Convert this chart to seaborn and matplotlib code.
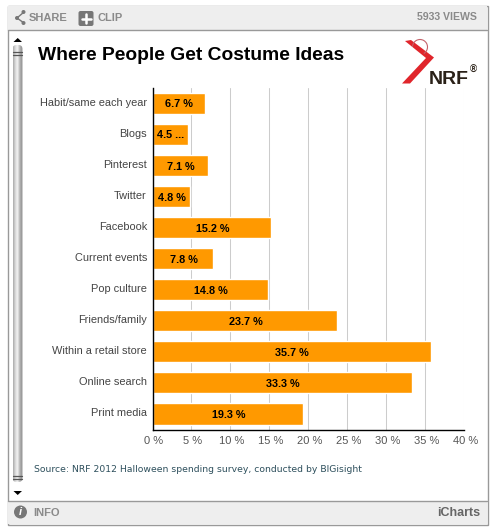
'Where People Get Costume Ideas - NRF bar chart in an iCharts frame'

import numpy as np
import pandas as pd
import matplotlib
matplotlib.use('Agg')
import matplotlib.pyplot as plt
from matplotlib.patches import Rectangle, Polygon, Circle, FancyBboxPatch, Arc
from matplotlib.transforms import ScaledTranslation
import seaborn as sns

categories = ['Habit/same each year', 'Blogs', 'Pinterest', 'Twitter', 'Facebook', 'Current events',
              'Pop culture', 'Friends/family', 'Within a retail store', 'Online search', 'Print media']
values = [6.7, 4.5, 7.1, 4.8, 15.2, 7.8, 14.8, 23.7, 35.7, 33.3, 19.3]
bar_labels = ['6.7 %', '4.5 ...', '7.1 %', '4.8 %', '15.2 %', '7.8 %', '14.8 %', '23.7 %', '35.7 %', '33.3 %', '19.3 %']
x_ticks = [0, 5, 10, 15, 20, 25, 30, 35, 40]

W, H = 492, 530


def main():
    sns.set_theme(style='white')
    plt.rcParams['font.family'] = ['Liberation Sans', 'DejaVu Sans']
    fig = plt.figure(figsize=(W / 100, H / 100), dpi=100, facecolor='white')

    # Frame, toolbars and scrollbar, drawn in pixel coordinates
    bg = fig.add_axes([0, 0, 1, 1], zorder=0)
    bg.set_xlim(0, W)
    bg.set_ylim(H, 0)
    bg.axis('off')
    bg.add_patch(Rectangle((7.5, 5.5), 480, 519, fc='white', ec='#999999', lw=1))
    bg.add_patch(Rectangle((8, 6), 479, 24, fc='#eeeeee', ec='none'))
    bg.add_patch(Rectangle((8, 501), 479, 23, fc='#eeeeee', ec='none'))
    bg.plot([8, 487], [30, 30], color='#999999', lw=1)
    bg.plot([8, 487], [500.5, 500.5], color='#999999', lw=1)

    # share icon
    bg.plot([24, 17, 24], [12, 18, 23], color='#777777', lw=1)
    for cx, cy in [(23.5, 12), (17, 18), (23.5, 23)]:
        bg.add_patch(Circle((cx, cy), 2, fc='#777777', ec='none'))
    bg.text(29, 18, 'SHARE', fontsize=8, fontweight='bold', color='#8a8a8a', va='center')

    # clip icon
    bg.add_patch(FancyBboxPatch((78.5, 11), 15, 15, boxstyle='round,pad=0,rounding_size=2', fc='#777777', ec='none'))
    bg.plot([86, 86], [14, 23], color='white', lw=1.8)
    bg.plot([81.5, 90.5], [18.5, 18.5], color='white', lw=1.8)
    bg.text(98, 18, 'CLIP', fontsize=8, fontweight='bold', color='#8a8a8a', va='center')
    bg.text(477, 17.5, '5933 VIEWS', fontsize=7.6, fontweight='bold', color='#8a8a8a', va='center', ha='right')

    # info + iCharts
    bg.add_patch(Circle((20.5, 512), 6.5, fc='#777777', ec='none'))
    bg.text(20.5, 512, 'i', fontsize=8, fontweight='bold', style='italic', color='white', va='center', ha='center')
    bg.text(33, 512.5, 'INFO', fontsize=8, fontweight='bold', color='#8a8a8a', va='center')
    bg.text(480, 513, 'iCharts', fontsize=9, fontweight='bold', color='#666666', va='center', ha='right')

    # scrollbar
    shade = np.array([[0.70, 0.80, 0.90, 0.93, 0.85, 0.72, 0.62, 0.60]])
    track = FancyBboxPatch((12.5, 45), 10, 437, boxstyle='round,pad=0,rounding_size=4', fc='none', ec='none')
    bg.add_patch(track)
    img = bg.imshow(shade, cmap='gray', vmin=0, vmax=1, extent=(12.5, 22.5, 482, 45), aspect='auto', zorder=1)
    img.set_clip_path(track)
    bg.set_xlim(0, W)
    bg.set_ylim(H, 0)
    for y in [52, 55, 476, 479]:
        bg.plot([13, 22], [y, y], color='#555555', lw=0.9, zorder=2)
    bg.add_patch(Polygon([[13.5, 42], [22, 42], [17.7, 38]], fc='black', ec='none'))
    bg.add_patch(Polygon([[13.5, 491], [22, 491], [17.7, 495]], fc='black', ec='none'))

    bg.text(38, 56, 'Where People Get Costume Ideas', fontsize=13.9, fontweight='bold', color='black', va='center')

    # NRF logo
    bg.add_patch(Polygon([[405, 41], [411, 40], [434, 57.5], [410, 83.5], [402, 83.5], [426, 58]], fc='#e0252b', ec='none'))
    bg.add_patch(Arc((420, 47), 15, 15, theta1=180, theta2=420, ec='#c4626a', lw=0.8))
    bg.text(429, 83.5, 'NRF', fontsize=14, fontweight='bold', color='#2a2118', va='baseline')
    bg.text(470, 70, '®', fontsize=7, fontweight='bold', color='#2a2118', va='center')

    bg.text(34, 469, 'Source: NRF 2012 Halloween spending survey, conducted by BIGisight', fontsize=6.7,
            family='DejaVu Sans', color='#2d4f5c', va='center')

    # The chart itself
    ax = fig.add_axes([152.5 / W, 1 - 429.5 / H, 311.5 / W, 341.5 / H], zorder=1)
    ax.patch.set_alpha(0)
    df = pd.DataFrame({'category': categories, 'value': values})
    sns.barplot(data=df, x='value', y='category', color='#ff9900', saturation=1, width=0.68, ax=ax, zorder=2)
    ax.set_xlim(0, 40)
    ax.set_xticks(x_ticks)
    ax.set_xticklabels([f'{t} %' for t in x_ticks], fontsize=8, color='#555555')
    ax.set_xlabel('')
    ax.set_ylabel('')
    ax.tick_params(axis='y', labelsize=7.9, labelcolor='#444444', length=0, pad=4)
    ax.tick_params(axis='x', length=0, pad=5)
    ax.xaxis.grid(True, color='#cccccc', lw=0.75, zorder=0)
    ax.set_axisbelow(True)
    sns.despine(ax=ax, top=True, right=True)
    ax.spines['left'].set_color('black')
    ax.spines['bottom'].set_color('black')
    ax.spines['left'].set_linewidth(1)
    ax.spines['bottom'].set_linewidth(1)

    # labels sit a little off the bars and gridlines in the original
    up = ScaledTranslation(0, 1.5 / 100, fig.dpi_scale_trans)
    right = ScaledTranslation(1.5 / 100, 0, fig.dpi_scale_trans)
    for lab in ax.get_yticklabels():
        lab.set_transform(lab.get_transform() + up)
    for lab in ax.get_xticklabels():
        lab.set_transform(lab.get_transform() + right)

    for i, (v, lab) in enumerate(zip(values, bar_labels)):
        ax.text(v / 2 + 0.1, i + 0.03, lab, ha='center', va='center', fontsize=7.8, fontweight='bold', color='black', zorder=3)

    fig.savefig('out.png', dpi=100)


if __name__ == "__main__":
    main()
